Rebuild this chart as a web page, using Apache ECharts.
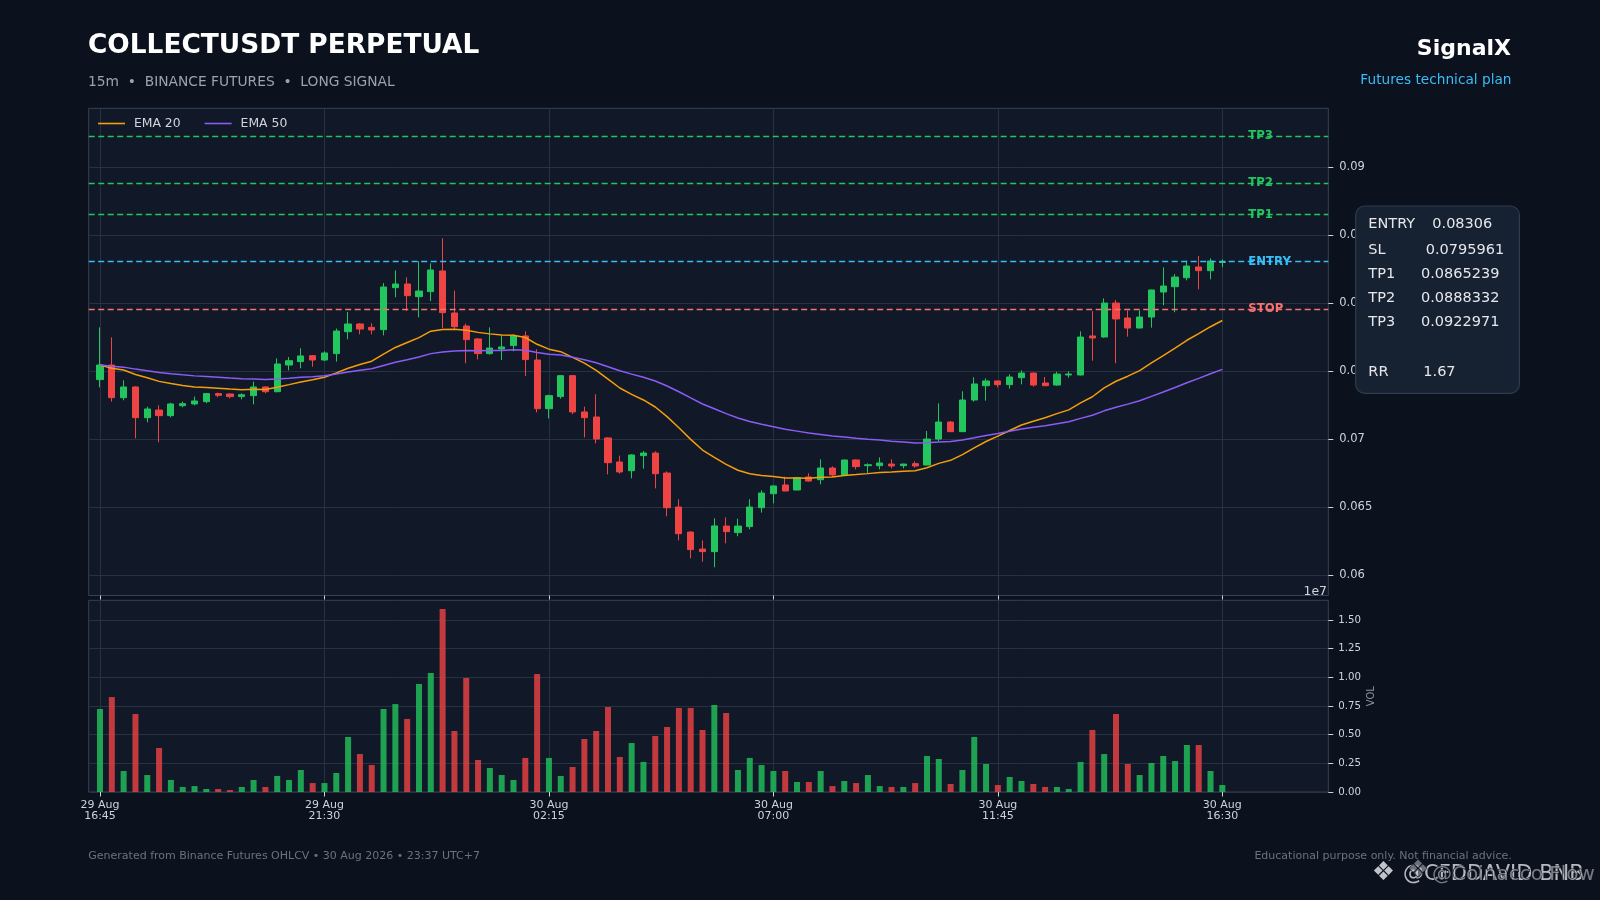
<!DOCTYPE html>
<html>
<head>
<meta charset="utf-8">
<script src="https://cdn.jsdelivr.net/npm/echarts@6/dist/echarts.min.js"></script>
<style>
html,body{margin:0;padding:0;background:#0b111d;}
#c{width:1600px;height:900px;}
</style>
</head>
<body>
<div id="c"></div>
<script>
// ---- data (15m candles, 29 Aug 16:45 -> 30 Aug 16:30) ----
const OPEN = [0.07439,0.07546,0.07306,0.07385,0.07159,0.07215,0.07174,0.07247,0.07260,0.07277,
  0.07336,0.07333,0.07314,0.07321,0.07385,0.07350,0.07546,0.07571,0.07615,0.07583,
  0.07630,0.07791,0.07848,0.07823,0.07806,0.08115,0.08142,0.08049,0.08086,0.08238,
  0.07929,0.07833,0.07738,0.07630,0.07664,0.07689,0.07760,0.07583,0.07225,0.07314,
  0.07468,0.07201,0.07164,0.07010,0.06833,0.06769,0.06880,0.06899,0.06752,0.06502,
  0.06318,0.06193,0.06174,0.06362,0.06314,0.06358,0.06497,0.06600,0.06664,0.06627,
  0.06723,0.06703,0.06789,0.06738,0.06848,0.06806,0.06806,0.06818,0.06806,0.06821,
  0.06811,0.07002,0.07127,0.07056,0.07289,0.07394,0.07429,0.07402,0.07453,0.07487,
  0.07414,0.07399,0.07473,0.07473,0.07760,0.07752,0.08002,0.07892,0.07818,0.07899,
  0.08083,0.08122,0.08188,0.08267,0.08240,0.08300];
const HIGH = [0.07823,0.07750,0.07434,0.07390,0.07240,0.07250,0.07269,0.07277,0.07314,0.07340,
  0.07343,0.07338,0.07338,0.07424,0.07390,0.07595,0.07605,0.07669,0.07620,0.07647,
  0.07814,0.07936,0.07855,0.07853,0.08149,0.08242,0.08191,0.08309,0.08294,0.08478,
  0.08093,0.07850,0.07745,0.07823,0.07765,0.07772,0.07794,0.07662,0.07328,0.07470,
  0.07473,0.07240,0.07331,0.07015,0.06880,0.06890,0.06914,0.06912,0.06764,0.06559,
  0.06323,0.06257,0.06419,0.06426,0.06416,0.06559,0.06625,0.06661,0.06725,0.06723,
  0.06750,0.06853,0.06801,0.06850,0.06852,0.06823,0.06867,0.06853,0.06820,0.06838,
  0.07061,0.07264,0.07135,0.07353,0.07456,0.07448,0.07431,0.07478,0.07507,0.07492,
  0.07458,0.07497,0.07500,0.07794,0.07943,0.08036,0.08024,0.07946,0.07948,0.08100,
  0.08264,0.08215,0.08313,0.08348,0.08331,0.08323];
const LOW = [0.07382,0.07277,0.07287,0.07007,0.07125,0.06978,0.07162,0.07235,0.07250,0.07265,
  0.07309,0.07301,0.07294,0.07257,0.07338,0.07345,0.07507,0.07522,0.07534,0.07576,
  0.07571,0.07735,0.07772,0.07772,0.07764,0.08044,0.07943,0.07897,0.08017,0.07816,
  0.07811,0.07559,0.07588,0.07622,0.07583,0.07647,0.07465,0.07198,0.07154,0.07299,
  0.07184,0.07014,0.06970,0.06742,0.06747,0.06713,0.06784,0.06639,0.06434,0.06257,
  0.06125,0.06100,0.06059,0.06235,0.06287,0.06338,0.06461,0.06529,0.06618,0.06625,
  0.06689,0.06669,0.06725,0.06730,0.06779,0.06745,0.06779,0.06786,0.06786,0.06791,
  0.06808,0.06987,0.07054,0.07054,0.07277,0.07284,0.07382,0.07372,0.07404,0.07387,
  0.07392,0.07394,0.07453,0.07470,0.07578,0.07747,0.07559,0.07755,0.07816,0.07821,
  0.07985,0.07934,0.08169,0.08103,0.08176,0.08264];
const CLOSE = [0.07546,0.07306,0.07385,0.07159,0.07223,0.07174,0.07260,0.07262,0.07282,0.07336,
  0.07323,0.07314,0.07328,0.07385,0.07350,0.07554,0.07578,0.07613,0.07583,0.07635,
  0.07796,0.07848,0.07811,0.07804,0.08120,0.08142,0.08056,0.08090,0.08245,0.07931,
  0.07828,0.07733,0.07630,0.07671,0.07679,0.07762,0.07586,0.07225,0.07321,0.07468,
  0.07201,0.07159,0.07002,0.06828,0.06760,0.06885,0.06899,0.06747,0.06497,0.06306,
  0.06189,0.06174,0.06363,0.06321,0.06362,0.06502,0.06605,0.06657,0.06620,0.06718,
  0.06693,0.06789,0.06738,0.06848,0.06799,0.06813,0.06826,0.06804,0.06818,0.06804,
  0.07002,0.07127,0.07056,0.07289,0.07407,0.07429,0.07402,0.07458,0.07487,0.07399,
  0.07394,0.07480,0.07480,0.07752,0.07745,0.08002,0.07885,0.07818,0.07899,0.08098,
  0.08127,0.08193,0.08274,0.08240,0.08311,0.08306];
// volume in units of 1e7
const VOLUME_1E7 = [0.724,0.828,0.183,0.680,0.148,0.384,0.105,0.044,0.052,0.026,
  0.026,0.017,0.044,0.105,0.044,0.140,0.105,0.192,0.078,0.078,
  0.166,0.480,0.331,0.235,0.724,0.767,0.637,0.942,1.038,1.596,
  0.532,0.994,0.279,0.209,0.148,0.105,0.297,1.029,0.297,0.140,
  0.218,0.462,0.532,0.741,0.305,0.427,0.262,0.488,0.567,0.733,
  0.733,0.541,0.759,0.689,0.192,0.297,0.235,0.183,0.183,0.087,
  0.087,0.183,0.052,0.096,0.078,0.148,0.052,0.044,0.044,0.078,
  0.314,0.288,0.070,0.192,0.480,0.244,0.061,0.131,0.096,0.070,
  0.044,0.044,0.026,0.262,0.541,0.331,0.680,0.244,0.148,0.253,
  0.314,0.270,0.410,0.410,0.183,0.061];

const TICK_INDEX = [0, 19, 38, 57, 76, 95];
const TICK_LABELS = ['29 Aug\n16:45','29 Aug\n21:30','30 Aug\n02:15','30 Aug\n07:00','30 Aug\n11:45','30 Aug\n16:30'];
const PRICE_TICKS = [0.06, 0.065, 0.07, 0.075, 0.08, 0.085, 0.09];
const PRICE_TICK_LABELS = ['0.06','0.065','0.07','0.075','0.08','0.085','0.09'];
const VOL_TICKS = [0, 0.25, 0.5, 0.75, 1.0, 1.25, 1.5];
const VOL_TICK_LABELS = ['0.00','0.25','0.50','0.75','1.00','1.25','1.50'];

const LEVEL_NAMES = ['TP3','TP2','TP1','ENTRY','STOP'];
const LEVEL_VALUES = [0.0922971, 0.0888332, 0.0865239, 0.08306, 0.0795961];
const LEVEL_COLORS = ['#22c55e','#22c55e','#22c55e','#38bdf8','#f87171'];

const BOX_LABELS = ['ENTRY','SL','TP1','TP2','TP3','RR'];
const BOX_VALUES = ['0.08306','0.0795961','0.0865239','0.0888332','0.0922971','1.67'];

// ---- derived ----
function ema(values, period) {
  const a = 2 / (period + 1);
  const out = [];
  let prev = values[0];
  for (let i = 0; i < values.length; i++) {
    prev = i === 0 ? values[0] : a * values[i] + (1 - a) * prev;
    out.push(prev);
  }
  return out;
}
const EMA20 = ema(CLOSE, 20);
const EMA50 = ema(CLOSE, 50);

const UP = '#22c55e', DOWN = '#ef4444';
const GRID_C = '#263142';
const FRAME_C = '#364355';
const LABEL_C = '#cbd5e1';
const FONT = 'DejaVu Sans';

const candleData = CLOSE.map((c, i) => [i, OPEN[i], CLOSE[i], LOW[i], HIGH[i]]);
const volData = VOLUME_1E7.map((v, i) => ({
  value: [i, v],
  itemStyle: { color: CLOSE[i] >= OPEN[i] ? UP : DOWN, opacity: 0.8 }
}));

function priceLabel(v) {
  for (let i = 0; i < PRICE_TICKS.length; i++) if (Math.abs(PRICE_TICKS[i] - v) < 1e-9) return PRICE_TICK_LABELS[i];
  return '';
}
function volLabel(v) {
  for (let i = 0; i < VOL_TICKS.length; i++) if (Math.abs(VOL_TICKS[i] - v) < 1e-9) return VOL_TICK_LABELS[i];
  return '';
}
function timeLabel(v) {
  const k = TICK_INDEX.indexOf(Math.round(v));
  return k >= 0 ? TICK_LABELS[k] : '';
}

const X_MIN = -0.957, X_MAX = 103.97;
const P_MIN = 0.058515, P_MAX = 0.094338;
const V_MIN = 0, V_MAX = 1.6718;

const chart = echarts.init(document.getElementById('c'), null, { renderer: 'canvas' });

const option = {
  backgroundColor: '#0b111d',
  animation: false,
  textStyle: { fontFamily: FONT },
  legend: {
    left: 98, top: 117.5, padding: 0,
    icon: 'rect', itemWidth: 27, itemHeight: 1.6, itemGap: 24,
    textStyle: { color: '#d1d5db', fontSize: 12.4, fontFamily: FONT },
    formatter: n => ' ' + n,
    data: ['EMA 20', 'EMA 50']
  },
  grid: [
    { left: 88.7, top: 108.3, width: 1239.6, height: 487.2, show: true,
      backgroundColor: '#111827', borderColor: FRAME_C, borderWidth: 1 },
    { left: 88.7, top: 600.3, width: 1239.6, height: 191.7, show: true,
      backgroundColor: '#111827', borderColor: FRAME_C, borderWidth: 1 }
  ],
  xAxis: [
    { type: 'value', gridIndex: 0, min: X_MIN, max: X_MAX,
      axisLine: { show: false, onZero: false },
      axisTick: { show: true, customValues: TICK_INDEX, length: 4, lineStyle: { color: LABEL_C } },
      axisLabel: { show: false, customValues: TICK_INDEX },
      splitLine: { show: true, lineStyle: { color: GRID_C, width: 1 } } },
    { type: 'value', gridIndex: 1, min: X_MIN, max: X_MAX,
      axisLine: { show: false, onZero: false },
      axisTick: { show: true, customValues: TICK_INDEX, length: 4.5, lineStyle: { color: LABEL_C } },
      axisLabel: { show: true, customValues: TICK_INDEX, formatter: timeLabel, color: LABEL_C,
        fontSize: 11, lineHeight: 11, margin: 8, fontFamily: FONT },
      splitLine: { show: true, lineStyle: { color: GRID_C, width: 1 } } }
  ],
  yAxis: [
    { type: 'value', gridIndex: 0, position: 'right', min: P_MIN, max: P_MAX,
      axisLine: { show: false, onZero: false },
      axisTick: { show: true, customValues: PRICE_TICKS, length: 5, lineStyle: { color: LABEL_C } },
      axisLabel: { show: true, customValues: PRICE_TICKS, formatter: priceLabel, color: LABEL_C,
        fontSize: 11.5, margin: 11, fontFamily: FONT, padding: [4, 0, 0, 0] },
      splitLine: { show: true, lineStyle: { color: GRID_C, width: 1 } } },
    { type: 'value', gridIndex: 1, position: 'right', min: V_MIN, max: V_MAX,
      axisLine: { show: false, onZero: false },
      axisTick: { show: true, customValues: VOL_TICKS, length: 5, lineStyle: { color: LABEL_C } },
      axisLabel: { show: true, customValues: VOL_TICKS, formatter: volLabel, color: LABEL_C,
        fontSize: 10.2, margin: 10, fontFamily: FONT, padding: [2, 0, 0, 0] },
      splitLine: { show: true, lineStyle: { color: GRID_C, width: 1 } } }
  ],
  series: [
    { name: 'Price', type: 'candlestick', xAxisIndex: 0, yAxisIndex: 0,
      encode: { x: 0, y: [1, 2, 3, 4] },
      data: candleData, barWidth: 6.7, z: 2,
      itemStyle: { color: UP, color0: DOWN, borderColor: UP, borderColor0: DOWN, borderWidth: 1 },
      markLine: {
        silent: true, symbol: ['none', 'none'], animation: false, precision: 8,
        label: { show: false },
        lineStyle: { type: [6, 3.5], width: 1.3, opacity: 1 },
        data: LEVEL_VALUES.map((v, i) => ({
          yAxis: v,
          lineStyle: { color: LEVEL_COLORS[i], type: [6, 3.5], width: 1.3, opacity: 1 }
        }))
      }
    },
    { name: 'EMA 20', type: 'line', xAxisIndex: 0, yAxisIndex: 0, z: 3,
      data: EMA20.map((v, i) => [i, v]), symbol: 'none', smooth: false,
      lineStyle: { color: '#f59e0b', width: 1.5 }, itemStyle: { color: '#f59e0b' } },
    { name: 'EMA 50', type: 'line', xAxisIndex: 0, yAxisIndex: 0, z: 3,
      data: EMA50.map((v, i) => [i, v]), symbol: 'none', smooth: false,
      lineStyle: { color: '#8b5cf6', width: 1.5 }, itemStyle: { color: '#8b5cf6' } },
    { name: 'Volume', type: 'bar', xAxisIndex: 1, yAxisIndex: 1,
      data: volData, barWidth: 6 }
  ]
};
chart.setOption(option);

function txt(text, x, y, opts) {
  return {
    type: 'text', z: 100, silent: true, x: x, y: y,
    style: Object.assign({ text: text, fill: '#ffffff', fontFamily: FONT, fontSize: 12,
      align: 'left', verticalAlign: 'middle' }, opts || {})
  };
}

const graphics = [];
// header
graphics.push(txt('COLLECTUSDT PERPETUAL', 88, 46, { fontSize: 26.4, fontWeight: 'bold', fill: '#ffffff' }));
graphics.push(txt('15m  \u2022  BINANCE FUTURES  \u2022  LONG SIGNAL', 88, 82.7, { fontSize: 13.8, fill: '#9ca3af' }));
graphics.push(txt('SignalX', 1511, 49, { fontSize: 22, fontWeight: 'bold', fill: '#ffffff', align: 'right' }));
graphics.push(txt('Futures technical plan', 1511.5, 80.6, { fontSize: 13.7, fill: '#38bdf8', align: 'right' }));
// footer
graphics.push(txt('Generated from Binance Futures OHLCV \u2022 30 Aug 2026 \u2022 23:37 UTC+7', 88.3, 856, { fontSize: 11, fill: '#6b7280' }));
graphics.push(txt('Educational purpose only. Not financial advice.', 1511.7, 856, { fontSize: 11, fill: '#6b7280', align: 'right' }));
// axis extras
graphics.push(txt('1e7', 1327, 591.5, { fontSize: 12.4, fill: '#d1d5db', align: 'right' }));
graphics.push({ type: 'text', z: 100, silent: true, x: 1371.7, y: 696.2, rotation: Math.PI / 2,
  style: { text: 'VOL', fill: '#8b949e', fontFamily: FONT, fontSize: 10, align: 'center', verticalAlign: 'middle' } });
// level labels
LEVEL_VALUES.forEach((v, i) => {
  const py = chart.convertToPixel({ yAxisIndex: 0 }, v);
  graphics.push(txt(LEVEL_NAMES[i], 1248.3, py, { fontSize: 11.7, fontWeight: 'bold', fill: LEVEL_COLORS[i] }));
});
// info box
graphics.push({ type: 'rect', z: 100, silent: true,
  shape: { x: 1355.7, y: 206, width: 163.7, height: 187.3, r: 9 },
  style: { fill: '#162131', stroke: '#2f3c50', lineWidth: 1.2 } });
const BOX_LABEL_X = 1368.3;
const BOX_VALUE_X = [1432.3, 1425.7, 1421, 1421, 1421, 1423.3];
const BOX_ROW_Y = [224.3, 249.8, 274.2, 298.5, 322.7, 372];
BOX_LABELS.forEach((l, i) => {
  graphics.push(txt(l, BOX_LABEL_X, BOX_ROW_Y[i], { fontSize: 14.5, fill: '#e5e7eb' }));
  graphics.push(txt(BOX_VALUES[i], BOX_VALUE_X[i], BOX_ROW_Y[i], { fontSize: 14.5, fill: '#e5e7eb' }));
});
// watermark (two overlapping stamps)
graphics.push(txt('\u2756', 1383.3, 873.3, { fontSize: 26, fill: 'rgba(225,228,233,0.85)', align: 'center', stroke: '#0b111d', lineWidth: 1 }));
graphics.push(txt('@CFDDAVID BNB', 1403, 875, { fontSize: 21, fill: 'rgba(225,228,233,0.8)', stroke: '#0b111d', lineWidth: 1 }));
graphics.push(txt('\u2756', 1418, 871, { fontSize: 24, fill: 'rgba(225,228,233,0.45)', align: 'center', stroke: '#0b111d', lineWidth: 1 }));
graphics.push(txt('@Coinacco Flow', 1432, 875, { fontSize: 20, fill: 'rgba(225,228,233,0.5)', stroke: '#0b111d', lineWidth: 1 }));

chart.setOption({ graphic: graphics });
</script>
</body>
</html>
